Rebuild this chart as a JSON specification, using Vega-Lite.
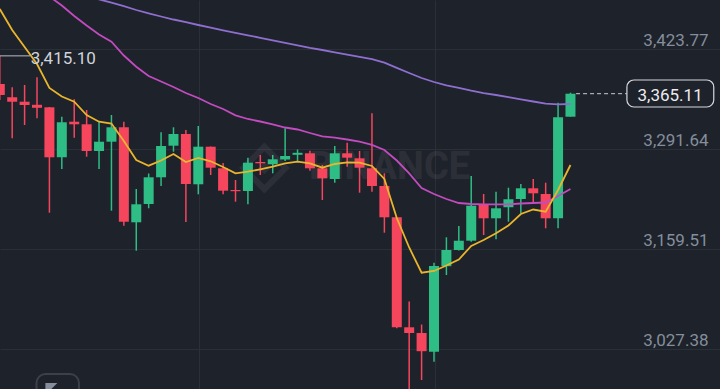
{
  "$schema": "https://vega.github.io/schema/vega-lite/v6.json",
  "width": 720,
  "height": 389,
  "autosize": {"type": "fit", "contains": "padding"},
  "padding": 0,
  "background": "#1e222a",
  "config": {"view": {"stroke": null}, "font": "Roboto"},
  "datasets": {
    "candles": [
      {"i":-1,"o":3377.92,"h":3415.10,"l":3356.78,"c":3363.39,"m7":3477.02,"m25":3544.40,"m99":3525.91},
      {"i":0,"o":3360.35,"h":3373.56,"l":3306.17,"c":3354.53,"m7":3449.27,"m25":3531.19,"m99":3521.94},
      {"i":1,"o":3354.53,"h":3376.60,"l":3323.75,"c":3350.17,"m7":3426.81,"m25":3518.64,"m99":3517.32},
      {"i":2,"o":3350.44,"h":3386.77,"l":3332.60,"c":3346.47,"m7":3404.35,"m25":3506.48,"m99":3512.69},
      {"i":3,"o":3347.13,"h":3347.53,"l":3207.87,"c":3281.07,"m7":3372.64,"m25":3493.53,"m99":3508.07},
      {"i":4,"o":3281.07,"h":3334.71,"l":3265.61,"c":3327.32,"m7":3361.40,"m25":3481.64,"m99":3503.44},
      {"i":5,"o":3328.11,"h":3357.70,"l":3306.97,"c":3324.67,"m7":3354.53,"m25":3467.77,"m99":3498.82},
      {"i":6,"o":3324.67,"h":3343.57,"l":3281.86,"c":3289.39,"m7":3336.96,"m25":3455.22,"m99":3494.20},
      {"i":7,"o":3289.39,"h":3328.11,"l":3265.61,"c":3301.68,"m7":3328.11,"m25":3443.33,"m99":3489.83},
      {"i":8,"o":3301.68,"h":3336.96,"l":3210.51,"c":3320.71,"m7":3325.73,"m25":3433.81,"m99":3485.34},
      {"i":9,"o":3320.71,"h":3328.11,"l":3190.69,"c":3195.98,"m7":3302.61,"m25":3415.58,"m99":3480.72},
      {"i":10,"o":3195.18,"h":3239.18,"l":3157.66,"c":3218.97,"m7":3277.50,"m25":3400.78,"m99":3475.70},
      {"i":11,"o":3219.36,"h":3259.66,"l":3213.68,"c":3254.64,"m7":3269.97,"m25":3388.49,"m99":3471.34},
      {"i":12,"o":3254.64,"h":3314.10,"l":3243.15,"c":3296.00,"m7":3276.84,"m25":3381.22,"m99":3467.11},
      {"i":13,"o":3296.40,"h":3320.71,"l":3288.47,"c":3311.86,"m7":3285.43,"m25":3373.96,"m99":3463.14},
      {"i":14,"o":3311.86,"h":3317.14,"l":3195.58,"c":3245.79,"m7":3274.86,"m25":3366.03,"m99":3459.58},
      {"i":15,"o":3245.39,"h":3322.43,"l":3232.18,"c":3295.08,"m7":3280.14,"m25":3359.42,"m99":3455.88},
      {"i":16,"o":3295.08,"h":3295.34,"l":3257.68,"c":3267.33,"m7":3275.78,"m25":3351.49,"m99":3452.31},
      {"i":17,"o":3266.54,"h":3273.54,"l":3232.18,"c":3236.94,"m7":3268.25,"m25":3344.89,"m99":3448.87},
      {"i":18,"o":3237.86,"h":3251.08,"l":3222.40,"c":3236.28,"m7":3259.93,"m25":3336.56,"m99":3445.57},
      {"i":19,"o":3236.54,"h":3280.54,"l":3218.97,"c":3273.93,"m7":3262.04,"m25":3331.68,"m99":3442.27},
      {"i":20,"o":3274.86,"h":3284.11,"l":3257.68,"c":3273.14,"m7":3265.21,"m25":3328.37,"m99":3438.96},
      {"i":21,"o":3271.82,"h":3284.11,"l":3259.93,"c":3278.43,"m7":3268.65,"m25":3324.41,"m99":3435.66},
      {"i":22,"o":3278.16,"h":3319.39,"l":3276.18,"c":3282.79,"m7":3273.14,"m25":3320.44,"m99":3432.36},
      {"i":23,"o":3284.37,"h":3291.38,"l":3276.18,"c":3287.02,"m7":3275.26,"m25":3317.80,"m99":3429.06},
      {"i":24,"o":3286.35,"h":3289.79,"l":3263.36,"c":3266.54,"m7":3273.14,"m25":3313.18,"m99":3425.75},
      {"i":25,"o":3266.54,"h":3270.90,"l":3224.65,"c":3253.32,"m7":3267.33,"m25":3308.82,"m99":3422.84},
      {"i":26,"o":3252.40,"h":3296.00,"l":3247.51,"c":3286.35,"m7":3272.22,"m25":3306.97,"m99":3419.81},
      {"i":27,"o":3286.35,"h":3300.36,"l":3268.65,"c":3280.54,"m7":3274.46,"m25":3304.59,"m99":3416.77},
      {"i":28,"o":3279.75,"h":3289.39,"l":3234.30,"c":3267.33,"m7":3273.93,"m25":3301.68,"m99":3413.73},
      {"i":29,"o":3266.54,"h":3339.21,"l":3235.62,"c":3243.15,"m7":3269.57,"m25":3297.59,"m99":3410.82},
      {"i":30,"o":3243.15,"h":3259.93,"l":3181.44,"c":3201.79,"m7":3252.40,"m25":3290.71,"m99":3406.06},
      {"i":31,"o":3201.79,"h":3202.19,"l":3055.13,"c":3056.45,"m7":3200.87,"m25":3276.84,"m99":3399.33},
      {"i":32,"o":3056.45,"h":3090.54,"l":2967.00,"c":3048.91,"m7":3161.89,"m25":3259.93,"m99":3392.46},
      {"i":33,"o":3048.91,"h":3060.15,"l":2986.82,"c":3024.87,"m7":3128.59,"m25":3240.51,"m99":3385.85},
      {"i":34,"o":3024.21,"h":3141.80,"l":3011.00,"c":3137.44,"m7":3130.84,"m25":3232.58,"m99":3380.56},
      {"i":35,"o":3137.18,"h":3175.37,"l":3125.55,"c":3158.58,"m7":3138.11,"m25":3225.97,"m99":3376.20},
      {"i":36,"o":3158.58,"h":3190.30,"l":3157.92,"c":3170.87,"m7":3146.03,"m25":3220.69,"m99":3372.90},
      {"i":37,"o":3170.87,"h":3256.36,"l":3169.56,"c":3217.12,"m7":3163.87,"m25":3219.36,"m99":3369.20},
      {"i":38,"o":3218.04,"h":3232.58,"l":3178.40,"c":3200.47,"m7":3171.80,"m25":3218.97,"m99":3365.90},
      {"i":39,"o":3200.47,"h":3235.62,"l":3172.72,"c":3213.68,"m7":3180.65,"m25":3218.97,"m99":3363.39},
      {"i":40,"o":3215.00,"h":3240.90,"l":3195.98,"c":3225.58,"m7":3190.96,"m25":3218.97,"m99":3360.48},
      {"i":41,"o":3225.97,"h":3245.79,"l":3207.08,"c":3240.11,"m7":3206.15,"m25":3220.03,"m99":3357.70},
      {"i":42,"o":3240.11,"h":3252.40,"l":3221.08,"c":3233.50,"m7":3212.10,"m25":3220.69,"m99":3354.80},
      {"i":43,"o":3232.58,"h":3247.51,"l":3187.26,"c":3200.47,"m7":3209.19,"m25":3221.35,"m99":3351.89},
      {"i":44,"o":3200.47,"h":3353.21,"l":3187.26,"c":3333.92,"m7":3237.86,"m25":3229.94,"m99":3351.10},
      {"i":45,"o":3334.71,"h":3366.43,"l":3334.71,"c":3365.11,"m7":3270.90,"m25":3239.18,"m99":3351.49}
    ]
  },
  "layer": [
    {
      "data": {"name": "candles"},
      "mark": {"type": "rule", "strokeWidth": 1.5, "clip": true},
      "encoding": {
        "x": {"field": "i", "type": "quantitative",
              "scale": {"domain": [-0.58, 56.65], "nice": false, "zero": false},
              "axis": {"values": [15.08, 34.08], "grid": true, "gridColor": "#2b2f38", "gridWidth": 1, "labels": false, "ticks": false, "domain": false, "title": null}},
        "y": {"field": "l", "type": "quantitative",
              "scale": {"domain": [2974.92, 3488.91], "nice": false, "zero": false},
              "axis": {"orient": "right", "values": [3027.38, 3159.51, 3291.64, 3423.77], "format": ",.2f",
                       "grid": true, "gridColor": "#2b2f38", "gridWidth": 1, "ticks": false, "domain": false,
                       "labelAlign": "right", "labelPadding": -12, "labelBaseline": "alphabetic", "labelOffset": -4,
                       "labelColor": "#848e9c", "labelFontSize": 17, "labelFont": "Roboto",
                       "labelOverlap": false, "labelFlush": false, "labelBound": false, "title": null}},
        "y2": {"field": "h"},
        "color": {"condition": {"test": "datum.c >= datum.o", "value": "#2ebd85"}, "value": "#f6465d"}
      }
    },
    {
      "data": {"values": [{"i": 30.42, "p": 3266.93, "t": "BINANCE"}]},
      "mark": {"type": "text", "fontSize": 38, "fontWeight": "bold", "font": "Roboto", "color": "#ffffff", "opacity": 0.06, "align": "center", "baseline": "middle"},
      "encoding": {
        "x": {"field": "i", "type": "quantitative"},
        "y": {"field": "p", "type": "quantitative"},
        "text": {"field": "t"}
      }
    },
    {
      "data": {"values": [{"i": 20.33, "p": 3266.93}]},
      "mark": {"type": "point", "shape": "diamond", "size": 1800, "filled": false, "stroke": "#ffffff", "strokeWidth": 6, "opacity": 0.06},
      "encoding": {
        "x": {"field": "i", "type": "quantitative"},
        "y": {"field": "p", "type": "quantitative"}
      }
    },
    {
      "data": {"values": [{"i": 20.33, "p": 3266.93}]},
      "mark": {"type": "point", "shape": "diamond", "size": 160, "filled": true, "color": "#ffffff", "opacity": 0.06},
      "encoding": {
        "x": {"field": "i", "type": "quantitative"},
        "y": {"field": "p", "type": "quantitative"}
      }
    },
    {
      "data": {"name": "candles"},
      "mark": {"type": "bar", "width": 10, "clip": true},
      "encoding": {
        "x": {"field": "i", "type": "quantitative"},
        "y": {"field": "o", "type": "quantitative"},
        "y2": {"field": "c"},
        "color": {"condition": {"test": "datum.c >= datum.o", "value": "#2ebd85"}, "value": "#f6465d"}
      }
    },
    {
      "data": {"name": "candles"},
      "mark": {"type": "line", "color": "#8e6fcf", "strokeWidth": 1.8, "clip": true},
      "encoding": {
        "x": {"field": "i", "type": "quantitative"},
        "y": {"field": "m99", "type": "quantitative"}
      }
    },
    {
      "data": {"name": "candles"},
      "mark": {"type": "line", "color": "#c24bc0", "strokeWidth": 1.8, "clip": true},
      "encoding": {
        "x": {"field": "i", "type": "quantitative"},
        "y": {"field": "m25", "type": "quantitative"}
      }
    },
    {
      "data": {"name": "candles"},
      "mark": {"type": "line", "color": "#e9b52c", "strokeWidth": 1.8, "clip": true},
      "encoding": {
        "x": {"field": "i", "type": "quantitative"},
        "y": {"field": "m7", "type": "quantitative"}
      }
    },
    {
      "data": {"values": [{"a": 45.45, "b": 49.55, "p": 3365.11}]},
      "mark": {"type": "rule", "color": "#c8ccd2", "strokeWidth": 1, "strokeDash": [4, 3]},
      "encoding": {
        "x": {"field": "a", "type": "quantitative"},
        "x2": {"field": "b"},
        "y": {"field": "p", "type": "quantitative"}
      }
    },
    {
      "data": {"values": [{"a": 49.55, "b": 56.55, "top": 3383.21, "bot": 3347.53}]},
      "mark": {"type": "rect", "fill": "#1e222a", "stroke": "#d5d8dc", "strokeWidth": 1.2, "cornerRadius": 7},
      "encoding": {
        "x": {"field": "a", "type": "quantitative"},
        "x2": {"field": "b"},
        "y": {"field": "top", "type": "quantitative"},
        "y2": {"field": "bot"}
      }
    },
    {
      "data": {"values": [{"i": 55.66, "p": 3365.11, "t": "3,365.11"}]},
      "mark": {"type": "text", "fontSize": 17, "font": "Roboto", "color": "#eaecef", "align": "right", "baseline": "middle", "dy": 2},
      "encoding": {
        "x": {"field": "i", "type": "quantitative"},
        "y": {"field": "p", "type": "quantitative"},
        "text": {"field": "t"}
      }
    },
    {
      "data": {"values": [{"a": -1, "b": 1.45, "p": 3415.10}]},
      "mark": {"type": "rule", "color": "#b7bdc6", "strokeWidth": 1, "clip": true},
      "encoding": {
        "x": {"field": "a", "type": "quantitative"},
        "x2": {"field": "b"},
        "y": {"field": "p", "type": "quantitative"}
      }
    },
    {
      "data": {"values": [{"i": 1.49, "p": 3415.10, "t": "3,415.10"}]},
      "mark": {"type": "text", "fontSize": 17, "font": "Roboto", "color": "#d0d4da", "align": "left", "baseline": "middle", "dy": 3},
      "encoding": {
        "x": {"field": "i", "type": "quantitative"},
        "y": {"field": "p", "type": "quantitative"},
        "text": {"field": "t"}
      }
    },
    {
      "data": {"values": [{"a": 1.96, "b": 5.38, "top": 2994.74, "bot": 2950}]},
      "mark": {"type": "rect", "fill": "#1e222a", "stroke": "#3b404a", "strokeWidth": 2, "cornerRadius": 9, "clip": true},
      "encoding": {
        "x": {"field": "a", "type": "quantitative"},
        "x2": {"field": "b"},
        "y": {"field": "top", "type": "quantitative"},
        "y2": {"field": "bot"}
      }
    },
    {
      "data": {"values": [{"i": 3.16, "p": 2974.92}]},
      "mark": {"type": "point", "shape": "M -1 -1 L 1 -1 L -1 1 Z", "size": 144, "filled": true, "color": "#848e9c", "opacity": 1, "clip": true},
      "encoding": {
        "x": {"field": "i", "type": "quantitative"},
        "y": {"field": "p", "type": "quantitative"}
      }
    }
  ]
}
